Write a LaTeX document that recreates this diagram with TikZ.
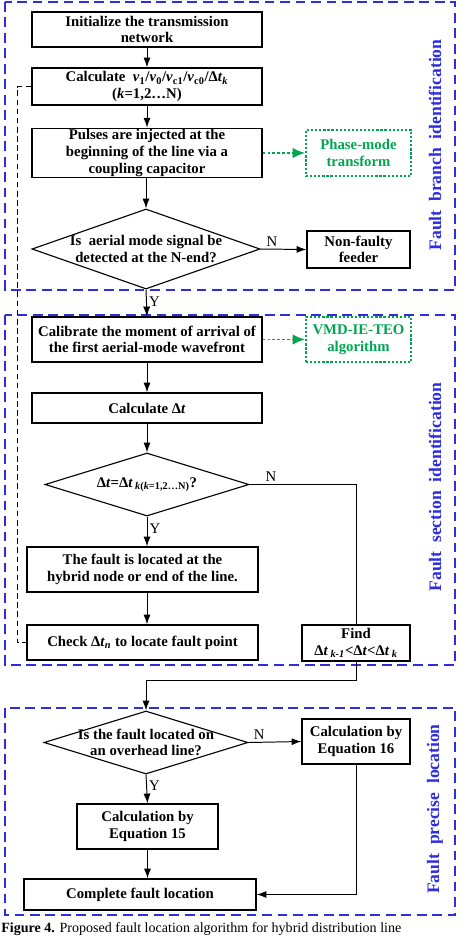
\documentclass[tikz,border=0pt]{standalone}
\usepackage{fontspec}
\setmainfont{Liberation Serif}
\usetikzlibrary{shapes.geometric,arrows.meta}
\definecolor{stageblue}{RGB}{45,45,225}
\definecolor{aidgreen}{RGB}{0,165,80}
\tikzset{
  stepbox/.style={draw, line width=0.8pt, align=center, inner sep=1pt,
    font=\bfseries\fontsize{10.5}{11.8}\selectfont},
  steptext/.style={align=center, inner sep=0pt,
    font=\bfseries\fontsize{10.5}{11.8}\selectfont},
  decision/.style={diamond, draw, line width=0.8pt, inner sep=0pt},
  aidbox/.style={draw=aidgreen, dash pattern=on 1.6pt off 1.3pt, line width=1.1pt, text=aidgreen,
    align=center, inner sep=1pt, font=\bfseries\fontsize{10.5}{11.8}\selectfont},
  arr/.style={-{Latex[length=7pt,width=5pt]}, line width=0.7pt},
  aidarr/.style={aidgreen, dash pattern=on 2pt off 1.5pt, line width=1.4pt,
    -{Latex[length=9pt,width=7.5pt]}},
  feedback/.style={dash pattern=on 4pt off 2.5pt, line width=0.6pt},
  stagebox/.style={draw=stageblue, dash pattern=on 7pt off 4pt, line width=0.9pt},
  stagename/.style={rotate=90, text=stageblue, font=\bfseries\fontsize{12.5}{14}\selectfont},
  yesno/.style={inner sep=1.5pt, font=\fontsize{10.5}{12}\selectfont}
}
\begin{document}
\begin{tikzpicture}[x=0.025cm, y=-0.025cm]
  \useasboundingbox (0,0) rectangle (474,936);
  % stage frames
  \draw[stagebox] (5,2) rectangle (455,290);
  \draw[stagebox] (5,315) rectangle (455,665);
  \draw[stagebox] (5,708) rectangle (455,915);
  \node[stagename] (branch) at (435,145) {Fault\ \ branch\ \ identification};
  \node[stagename] (section) at (435,487) {Fault\ \ section\ \ identification};
  \node[stagename] (precise) at (435,809) {Fault\ \ precise\ \ location};

  % fault branch identification
  \node[stepbox, minimum width=5.75cm, minimum height=0.875cm] (init) at (147,29.5)
    {Initialize the transmission\\network};
  \node[stepbox, minimum width=5.75cm, minimum height=0.925cm] (calc) at (147,86.5)
    {Calculate\ \ \textit{v}\textsubscript{1}/\textit{v}\textsubscript{0}/\textit{v}\textsubscript{c1}/\textit{v}\textsubscript{c0}/Δ\textit{t}\textsubscript{\textit{k}}\\(\textit{k}=1,2\ldots N)};
  \node[stepbox, minimum width=5.75cm, minimum height=1.2cm] (pulse) at (147,153)
    {Pulses are injected at the\\beginning of the line via a\\coupling capacitor};
  \node[aidbox, minimum width=2.625cm, minimum height=1.15cm] (phase) at (358.5,153)
    {Phase-mode\\transform};
  \node[decision, minimum width=5.7cm, minimum height=2cm] (d1) at (146,249) {};
  \node[steptext] (d1t) at (d1) {Is\ \ aerial mode signal be\\detected at the N-end?};
  \node[stepbox, minimum width=2.575cm, minimum height=0.925cm] (nonfault) at (358.5,249.5)
    {Non-faulty\\feeder};

  % fault section identification
  \node[stepbox, minimum width=5.75cm, minimum height=1.125cm] (calib) at (147,339.5)
    {Calibrate the moment of arrival of\\the first aerial-mode wavefront};
  \node[aidbox, minimum width=2.625cm, minimum height=1.125cm] (vmd) at (358.5,339.5)
    {VMD-IE-TEO\\algorithm};
  \node[stepbox, minimum width=5.75cm, minimum height=0.75cm] (calcdt) at (147,408)
    {Calculate Δ\textit{t}};
  \node[decision, minimum width=5.1cm, minimum height=1.575cm] (d2) at (147,484.5) {};
  \node[steptext] (d2t) at (d2)
    {Δ\textit{t}=Δ\textit{t}\,\textsubscript{\textit{k}(\textit{k}=1,2\ldots N)}?};
  \node[stepbox, minimum width=5.775cm, minimum height=1.125cm] (hybrid) at (142.5,569.5)
    {The fault is located at the\\hybrid node or end of the line.};
  \node[stepbox, minimum width=5.775cm, minimum height=0.875cm] (check) at (142.5,642.5)
    {Check Δ\textit{t}\textsubscript{\textit{n}} to locate fault point};
  \node[stepbox, minimum width=2.7cm, minimum height=0.9cm] (find) at (356,643)
    {Find\\Δ\textit{t}\,\textsubscript{\textit{k-1}}<Δ\textit{t}<Δ\textit{t}\,\textsubscript{\textit{k}}};

  % fault precise location
  \node[decision, minimum width=5.1cm, minimum height=1.575cm] (d3) at (146,742.5) {};
  \node[steptext] (d3t) at (d3) {Is the fault located on\\an overhead line?};
  \node[stepbox, minimum width=2.7cm, minimum height=1.125cm] (eq16) at (356,741.5)
    {Calculation by\\Equation 16};
  \node[stepbox, minimum width=3.525cm, minimum height=1.125cm] (eq15) at (147.5,826.5)
    {Calculation by\\Equation 15};
  \node[stepbox, minimum width=5.8cm, minimum height=0.775cm] (done) at (140,894.5)
    {Complete fault location};

  \node[anchor=base west, inner sep=0pt, font=\fontsize{10}{12}\selectfont] (caption) at (1,932)
    {\textbf{Figure 4.} Proposed fault location algorithm for hybrid distribution line};

  % flow
  \begin{scope}[arr]
    \draw (init) -- (calc);
    \draw (calc) -- (pulse);
    \draw (pulse.south -| d1.north) -- (d1.north);
    \draw (d1.east) -- node[yesno, above, pos=0.25] (n1) {N} (nonfault.west);
    \draw (d1.south) -- node[yesno, right, pos=0.45] (y1) {Y} (calib.north);
    \draw (calib) -- (calcdt);
    \draw (calcdt) -- (d2);
    \draw (d2.south) -- node[yesno, right, pos=0.4] (y2) {Y} (d2.south |- hybrid.north);
    \draw (hybrid.south -| d2.south) -- (d2.south |- check.north);
    \draw (find.south) -- (find.south |- 0,680) -| (d3.north);
    \draw (d3.east) -- node[yesno, above, pos=0.2] (n3) {N} (eq16.west);
    \draw (d3.south) -- node[yesno, right, pos=0.4] (y3) {Y} (eq15.north);
    \draw (eq15.south) -- (eq15.south |- done.north);
    \draw (eq16.south) |- (done.east);
  \end{scope}
  \draw[line width=0.7pt] (d2.east) -- node[yesno, above, pos=0.2] (n2) {N} (find.north |- d2.east) -- (find.north);
  \draw[aidarr] (pulse.east) -- (phase.west);
  \draw[aidarr] (calib.east) -- (vmd.west);
  \draw[feedback] (calc.west) -- (17,86.5) |- (check.west);
\end{tikzpicture}
\end{document}
